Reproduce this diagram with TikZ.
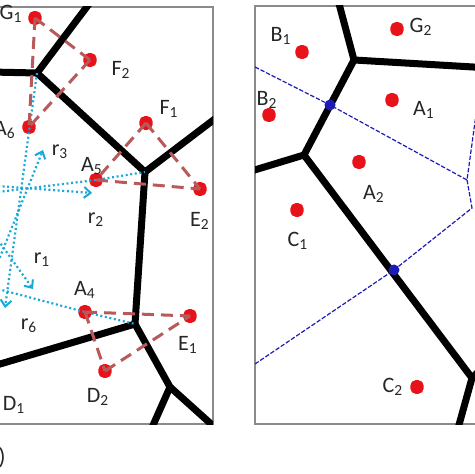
\documentclass[tikz,border=0pt]{standalone}
\usepackage{fontspec}
\setmainfont{Carlito}
\usetikzlibrary{arrows.meta}
\definecolor{vred}{HTML}{E8121A}
\definecolor{dred}{HTML}{B85A5A}
\definecolor{cyanb}{HTML}{1AA8D8}
\definecolor{dblue}{HTML}{1C1CB4}
\definecolor{framegray}{HTML}{8A8A8A}
\begin{document}
\begin{tikzpicture}[x=0.5pt,y=-0.5pt,
  site/.style={fill=vred, rounded corners=2.6pt, minimum width=6.6pt, minimum height=6.8pt, inner sep=0pt},
  lbl/.style={font=\fontsize{11pt}{12pt}\selectfont, inner sep=0pt, text=black!85},
  vedge/.style={line width=3.5pt, line cap=round, line join=round},
  tri/.style={dred, line width=1.5pt, dash pattern=on 6pt off 3.5pt},
  ray/.style={cyanb, line width=1.1pt, dash pattern=on 1pt off 1.3pt},
  rarrow/.style={ray, -{Straight Barb[length=3.2pt,width=5.5pt,line width=1pt]}},
  bis/.style={dblue, line width=0.6pt, dash pattern=on 2.2pt off 0.9pt},
  panel/.style={draw=framegray, line width=0.6pt},
  vdot/.style={circle, fill=dblue, minimum size=5.5pt, inner sep=0pt}]
\useasboundingbox (0,0) rectangle (474,474);

% ---------- left panel ----------
\draw[panel] (-10,7) rectangle (213,424);
% sites
\node[site] (G1) at (35,18) {};
\node[site] (F2) at (90,60) {};
\node[site] (A6) at (29,127) {};
\node[site] (F1) at (146,123) {};
\node[site] (A5) at (96,180) {};
\node[site] (E2) at (200,189) {};
\node[site] (A4) at (85,312) {};
\node[site] (E1) at (190,316) {};
\node[site] (D2) at (105,371) {};
% labels
\node[lbl] (lG1) at (11,14) {G\textsubscript{1}};
\node[lbl] (lF2) at (121,70) {F\textsubscript{2}};
\node[lbl] (lA6) at (5,130) {A\textsubscript{6}};
\node[lbl] (lF1) at (169,109) {F\textsubscript{1}};
\node[lbl] (lA5) at (92,166) {A\textsubscript{5}};
\node[lbl] (lE2) at (200,221) {E\textsubscript{2}};
\node[lbl] (lr3) at (60,152) {r\textsubscript{3}};
\node[lbl] (lr2) at (96,220) {r\textsubscript{2}};
\node[lbl] (lr1) at (42,260) {r\textsubscript{1}};
\node[lbl] (lr6) at (29,326) {r\textsubscript{6}};
\node[lbl] (lA4) at (85,290) {A\textsubscript{4}};
\node[lbl] (lE1) at (188,345) {E\textsubscript{1}};
\node[lbl] (lD2) at (98,397) {D\textsubscript{2}};
\node[lbl] (lD1) at (14,405) {D\textsubscript{1}};
\node[lbl, anchor=east, font=\fontsize{11.5pt}{12pt}\selectfont] (cap) at (6,458) {(a)};

\begin{scope}
\clip (-10,7) rectangle (213,424);
\coordinate (V1) at (37,73);
\coordinate (V2) at (145,172);
\coordinate (V3) at (135,324);
\coordinate (V4) at (170,387);
\coordinate (e1) at (-10,72);
\coordinate (e2) at (92,0);
\coordinate (e3) at (220,115);
\coordinate (e4) at (-10,367);
\coordinate (e5) at (220,432);
\coordinate (e6) at (150,432);
\draw[vedge] (e1) -- (V1) -- (e2);
\draw[vedge] (V1) -- (V2) -- (e3);
\draw[vedge] (V2) -- (V3) -- (e4);
\draw[vedge] (V3) -- (V4) -- (e5);
\draw[vedge] (V4) -- (e6);
% rays
\coordinate (r6t) at (5,308);
\coordinate (d2s) at (-2,192);
\coordinate (r2s) at (-2,186);
\coordinate (r2t) at (92,193);
\coordinate (r3s) at (-2,262);
\coordinate (r3t) at (43,150);
\coordinate (r1s) at (-2,240);
\coordinate (r1t) at (33,289);
\coordinate (d4s) at (-2,289);
\draw[rarrow] (V1) -- (r6t);
\draw[ray] (d2s) -- (A5.center) -- (V2);
\draw[rarrow] (r2s) -- (r2t);
\draw[rarrow] (r3s) -- (r3t);
\draw[rarrow] (r1s) -- (r1t);
\draw[ray] (d4s) -- (A4.center) -- (V3);
\end{scope}
% Delaunay triangles
\draw[tri] (G1.center) -- (F2.center);
\draw[tri] (G1.center) -- (A6.center);
\draw[tri] (F2.center) -- (A6.center);
\draw[tri] (F1.center) -- (A5.center);
\draw[tri] (F1.center) -- (E2.center);
\draw[tri] (A5.center) -- (E2.center);
\draw[tri] (A4.center) -- (E1.center);
\draw[tri] (A4.center) -- (D2.center);
\draw[tri] (D2.center) -- (E1.center);

% ---------- right panel ----------
\draw[panel] (255,6) rectangle (490,424);
\node[site] (G2) at (397,29) {};
\node[site] (B1) at (302,52) {};
\node[site] (B2) at (269,115) {};
\node[site] (A1) at (392,100) {};
\node[site] (A2) at (359,162) {};
\node[site] (C1) at (297,210) {};
\node[site] (C2) at (417,387) {};
\node[lbl] (lB1) at (281,36) {B\textsubscript{1}};
\node[lbl] (lG2) at (421,27) {G\textsubscript{2}};
\node[lbl] (lB2) at (267,100) {B\textsubscript{2}};
\node[lbl] (lA1) at (424,110) {A\textsubscript{1}};
\node[lbl] (lA2) at (374,194) {A\textsubscript{2}};
\node[lbl] (lC1) at (298,241) {C\textsubscript{1}};
\node[lbl] (lC2) at (393,387) {C\textsubscript{2}};

\begin{scope}
\clip (255,6) rectangle (490,424);
\coordinate (W1) at (354,60);
\coordinate (W2) at (304,155);
\coordinate (W3) at (472,378);
\coordinate (f1) at (338,0);
\coordinate (f2) at (490,68);
\coordinate (f3) at (248,172);
\coordinate (f4) at (457,432);
\coordinate (f5) at (495,355);
\draw[vedge] (f1) -- (W1) -- (f2);
\draw[vedge] (W1) -- (W2) -- (f3);
\draw[vedge] (W2) -- (W3) -- (f4);
\draw[vedge] (W3) -- (f5);
\node[vdot] (U1) at (330,105) {};
\node[vdot] (U4) at (394,270) {};
\coordinate (b0) at (255,67);
\coordinate (U2) at (467,180);
\coordinate (U3) at (472,208);
\coordinate (b5) at (478,100);
\coordinate (b6) at (255,364);
\draw[bis] (b0) -- (U1.center) -- (U2) -- (b5);
\draw[bis] (U2) -- (U3) -- (U4.center) -- (b6);
\end{scope}
\end{tikzpicture}
\end{document}
